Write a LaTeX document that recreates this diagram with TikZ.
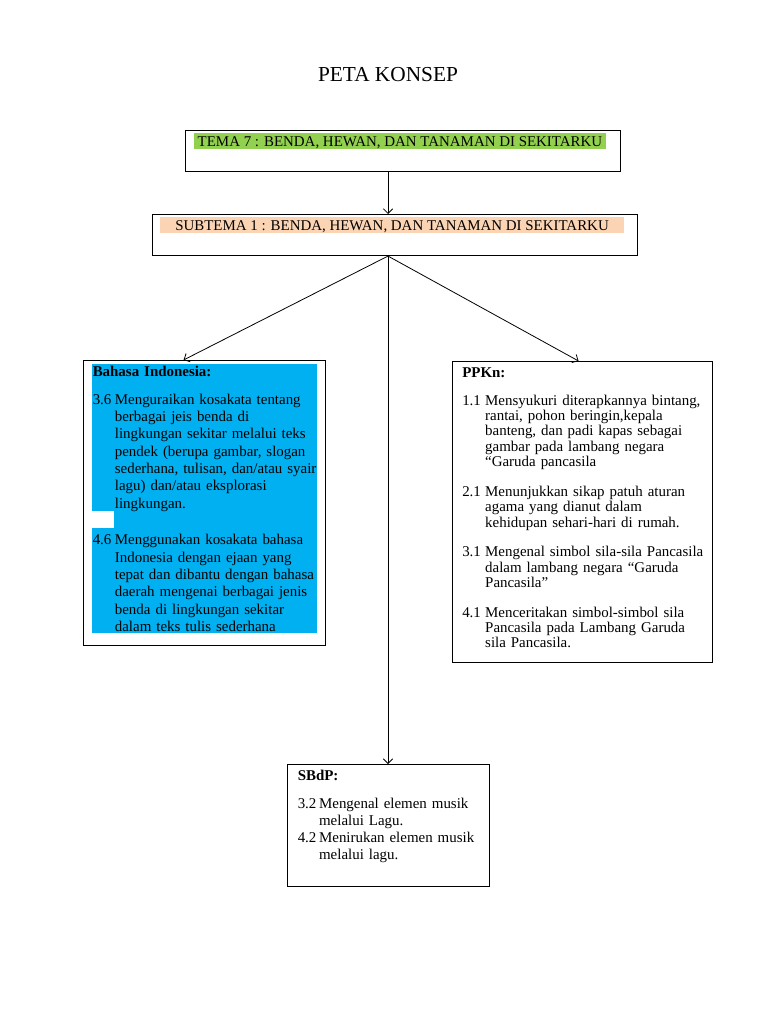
\documentclass[tikz,border=0pt]{standalone}
\usepackage{fontspec}
\setmainfont{Liberation Serif}
\usetikzlibrary{arrows.meta}

\definecolor{hijau}{RGB}{146,208,80}
\definecolor{persik}{RGB}{251,212,180}
\definecolor{biru}{RGB}{0,176,240}

% kompetensi dasar: number, then hanging text
\newlength{\kdw}
\newcommand{\kd}[2]{\par\noindent\hangindent=\kdw\hangafter=1\makebox[\kdw][l]{#1}#2\par}

\tikzset{
  kotak/.style 2 args={draw, line width=0.8pt, anchor=north west, inner sep=0pt,
    minimum width={#1*0.75pt}, minimum height={#2*0.75pt}},
  isi/.style={anchor=north west, inner sep=0pt, align=left, text width=260pt,
    font=\fontsize{11.2}{#1}\selectfont},
  sorot/.style={fill=#1, anchor=base west, inner ysep=0pt, text height=9.5pt,
    text depth=2.25pt, font=\fontsize{11.2}{13}\selectfont},
  panah/.style={line width=0.6pt, -{Straight Barb[length=3.5pt,width=7pt]}},
}

\begin{document}
\begin{tikzpicture}[x=0.75pt, y=-0.75pt]
    \useasboundingbox (0,0) rectangle (768,1024);

    \node[anchor=base, inner sep=0pt, font=\fontsize{16}{19}\selectfont] (judul) at (388,82) {PETA KONSEP};

    % kotak-kotak
    \node[kotak={434.5}{41.5}] (tema) at (185,129.5) {};
    \node[kotak={485}{41}] (sub) at (152,214) {};
    \node[kotak={242}{285}] (bahasa) at (83,360) {};
    \node[kotak={260}{301}] (ppkn) at (452,361) {};
    \node[kotak={202}{122}] (sbdp) at (287,764) {};

    % judul tema dan subtema
    \node[sorot=hijau, inner xsep=2.6pt] (temateks) at (194,146) {TEMA 7 : BENDA, HEWAN, DAN TANAMAN DI SEKITARKU};
    \node[sorot=persik, inner xsep=11.25pt] (subteks) at (160,230) {SUBTEMA 1 : BENDA, HEWAN, DAN TANAMAN DI SEKITARKU};

    % panah
    \coordinate (pusat) at (388,0);
    \draw[panah] (tema.south -| pusat) -- (sub.north -| pusat);
    \draw[panah] (sub.south -| pusat) -- ([xshift=-15.75pt]bahasa.north);
    \draw[panah] (sub.south -| pusat) -- ([xshift=-3pt]ppkn.north);
    \draw[panah] (sub.south -| pusat) -- (sbdp.north -| pusat);

    % Bahasa Indonesia
    \fill[biru] (91.7,364) rectangle (316.5,632.7);
    \fill[white] (91.7,510.7) rectangle (114.3,527.5);
    \setlength{\kdw}{16.6pt}
    \node[isi=13pt] (bahasateks) at (92.5,366) {%
      \textbf{Bahasa Indonesia:}\par\vspace{7.6pt}
      \kd{3.6}{Menguraikan kosakata tentang\newline berbagai jeis benda di\newline lingkungan sekitar melalui teks\newline pendek (berupa gambar, slogan\newline sederhana, tulisan, dan/atau syair\newline lagu) dan/atau eksplorasi\newline lingkungan.}
      \vspace{14.6pt}
      \kd{4.6}{Menggunakan kosakata bahasa\newline Indonesia dengan ejaan yang\newline tepat dan dibantu dengan bahasa\newline daerah mengenai berbagai jenis\newline benda di lingkungan sekitar\newline dalam teks tulis sederhana}};

    % PPKn
    \setlength{\kdw}{17.2pt}
    \node[isi=11.45pt] (ppknteks) at (462,367.5) {%
      \textbf{PPKn:}\par\vspace{9.3pt}
      \kd{1.1}{Mensyukuri diterapkannya bintang,\newline rantai, pohon beringin,kepala\newline banteng, dan padi kapas sebagai\newline gambar pada lambang negara\newline ``Garuda pancasila}
      \vspace{11.2pt}
      \kd{2.1}{Menunjukkan sikap patuh aturan\newline agama yang dianut dalam\newline kehidupan sehari-hari di rumah.}
      \vspace{11pt}
      \kd{3.1}{Mengenal simbol sila-sila Pancasila\newline dalam lambang negara ``Garuda\newline Pancasila''}
      \vspace{11pt}
      \kd{4.1}{Menceritakan simbol-simbol sila\newline Pancasila pada Lambang Garuda\newline sila Pancasila.}};

    % SBdP
    \setlength{\kdw}{16pt}
    \node[isi=12.75pt] (sbdpteks) at (297.5,769.5) {%
      \textbf{SBdP:}\par\vspace{8.55pt}
      \kd{3.2}{Mengenal elemen musik\newline melalui Lagu.}
      \kd{4.2}{Menirukan elemen musik\newline melalui lagu.}};
\end{tikzpicture}
\end{document}
